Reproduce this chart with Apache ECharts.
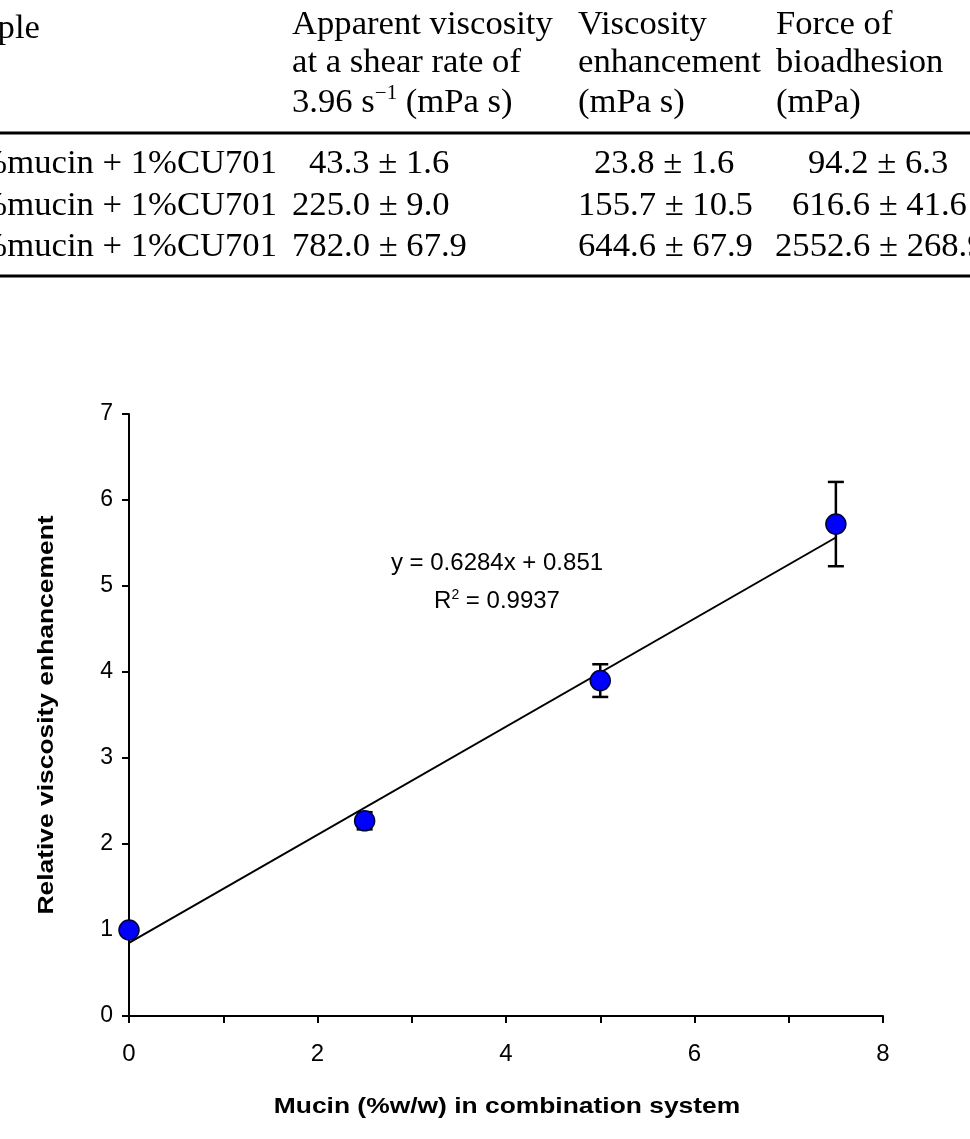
<!DOCTYPE html>
<html>
<head>
<meta charset="utf-8">
<script src="https://cdn.jsdelivr.net/npm/echarts@6/dist/echarts.min.js"></script>
<style>
  html, body { margin: 0; padding: 0; background: #fff; }
  #chart { width: 970px; height: 1139px; }
</style>
</head>
<body>
<div id="chart"></div>
<script>
// table above the figure (left column is cropped in the source)
const TABLE_SAMPLES = ['2.5%mucin + 1%CU701', '5%mucin + 1%CU701', '7.5%mucin + 1%CU701'];
const TABLE_APPARENT = ['43.3 \u00b1 1.6', '225.0 \u00b1 9.0', '782.0 \u00b1 67.9'];
const TABLE_ENHANCE = ['23.8 \u00b1 1.6', '155.7 \u00b1 10.5', '644.6 \u00b1 67.9'];
const TABLE_FORCE = ['94.2 \u00b1 6.3', '616.6 \u00b1 41.6', '2552.6 \u00b1 268.9'];

// figure: relative viscosity enhancement vs mucin content
const MUCIN = [0, 2.5, 5, 7.5];
const REL_VISC = [1.0, 2.27, 3.9, 5.72];
const REL_VISC_SD = [0, 0.1, 0.19, 0.49];
const TREND_X = [0, 7.5];
const TREND_Y = [0.851, 5.564];
const X_TICKS = [0, 2, 4, 6, 8];

const serif = '"Liberation Serif", "DejaVu Serif", serif';
const sans = '"Liberation Sans", Arial, sans-serif';
const SX = 1.05; // source text is a little wide

const chart = echarts.init(document.getElementById('chart'), null, { renderer: 'canvas' });

const txt = (x, y, text, align, extra) => ({
  type: 'text', x, y, scaleX: SX,
  style: Object.assign({ text, font: '33px ' + serif, fill: '#000', textAlign: align || 'left', textVerticalAlign: 'middle' }, extra || {})
});

const graphics = [
  txt(-64, 29, 'Sample'),
  txt(292, 25, 'Apparent viscosity'),
  txt(292, 63, 'at a shear rate of'),
  txt(292, 103, '3.96 s{sup|\u22121} (mPa s)', 'left', {
    rich: { sup: { fontSize: 20, fontFamily: serif, padding: [0, 0, 18, 0] } }
  }),
  txt(578, 25, 'Viscosity'),
  txt(578, 63, 'enhancement'),
  txt(578, 103, '(mPa s)'),
  txt(776, 25, 'Force of'),
  txt(776, 63, 'bioadhesion'),
  txt(776, 103, '(mPa)'),
  { type: 'line', shape: { x1: 0, y1: 133, x2: 970, y2: 133 }, style: { stroke: '#000', lineWidth: 3 } },
  { type: 'line', shape: { x1: 0, y1: 276, x2: 970, y2: 276 }, style: { stroke: '#000', lineWidth: 3 } },
  {
    type: 'text', x: 497, y: 563,
    style: { text: 'y = 0.6284x + 0.851', font: '24px ' + sans, fill: '#000', textAlign: 'center', textVerticalAlign: 'middle' }
  },
  {
    type: 'text', x: 497, y: 601,
    style: {
      text: 'R{sup|2} = 0.9937', font: '24px ' + sans, fill: '#000', textAlign: 'center', textVerticalAlign: 'middle',
      rich: { sup: { fontSize: 14, fontFamily: sans, padding: [0, 0, 12, 0] } }
    }
  },
  // axis titles (drawn as graphics so they can be widened like the source)
  {
    type: 'text', x: 507, y: 1107, scaleX: 1.2,
    style: { text: 'Mucin (%w/w) in combination system', font: 'bold 22px ' + sans, fill: '#000', textAlign: 'center', textVerticalAlign: 'middle' }
  },
  {
    type: 'text', x: 47, y: 715, rotation: Math.PI / 2, scaleX: 1.2,
    style: { text: 'Relative viscosity enhancement', font: 'bold 22px ' + sans, fill: '#000', textAlign: 'center', textVerticalAlign: 'middle' }
  }
];

const ROW_Y = [164, 206, 247];
const COL1_X = [309, 292, 292];
const COL2_X = [594, 578, 578];
const COL3_X = [808, 792, 775];
ROW_Y.forEach((y, i) => {
  graphics.push(txt(277, y, TABLE_SAMPLES[i], 'right'));
  graphics.push(txt(COL1_X[i], y, TABLE_APPARENT[i]));
  graphics.push(txt(COL2_X[i], y, TABLE_ENHANCE[i]));
  graphics.push(txt(COL3_X[i], y, TABLE_FORCE[i]));
});

const points = MUCIN.map((x, i) => [x, REL_VISC[i]]);
const errors = MUCIN.map((x, i) => [x, REL_VISC[i] - REL_VISC_SD[i], REL_VISC[i] + REL_VISC_SD[i]]);
const trend = TREND_X.map((x, i) => [x, TREND_Y[i]]);

chart.setOption({
  animation: false,
  backgroundColor: '#fff',
  graphic: graphics,
  grid: { left: 129, right: 87, top: 414, bottom: 123 },
  xAxis: {
    type: 'value', min: 0, max: 8, interval: 1,
    axisLine: { lineStyle: { color: '#000', width: 2 } },
    axisTick: { show: true, inside: false, length: 7, lineStyle: { color: '#000', width: 2 } },
    axisLabel: {
      margin: 26, fontFamily: sans, fontSize: 24, color: '#000',
      formatter: v => (X_TICKS.includes(v) ? String(v) : '')
    },
    splitLine: { show: false }
  },
  yAxis: {
    type: 'value', min: 0, max: 7, interval: 1,
    axisLine: { show: true, lineStyle: { color: '#000', width: 2 } },
    axisTick: { show: true, inside: false, length: 7, lineStyle: { color: '#000', width: 2 } },
    axisLabel: { margin: 16, fontFamily: sans, fontSize: 23, color: '#000' },
    splitLine: { show: false }
  },
  series: [
    {
      type: 'line', data: trend, symbol: 'none', z: 2,
      lineStyle: { color: '#000', width: 2 }
    },
    {
      type: 'custom', data: errors, z: 3,
      renderItem: (params, api) => {
        const top = api.coord([api.value(0), api.value(2)]);
        const bot = api.coord([api.value(0), api.value(1)]);
        const cap = 8;
        const st = { stroke: '#000', lineWidth: 2.5 };
        return {
          type: 'group',
          children: [
            { type: 'line', shape: { x1: top[0], y1: top[1], x2: bot[0], y2: bot[1] }, style: st },
            { type: 'line', shape: { x1: top[0] - cap, y1: top[1], x2: top[0] + cap, y2: top[1] }, style: st },
            { type: 'line', shape: { x1: bot[0] - cap, y1: bot[1], x2: bot[0] + cap, y2: bot[1] }, style: st }
          ]
        };
      }
    },
    {
      type: 'scatter', data: points, z: 4,
      symbol: 'circle', symbolSize: 20,
      itemStyle: { color: '#0000ff', borderColor: '#000033', borderWidth: 1.5, opacity: 1 }
    }
  ]
});
</script>
</body>
</html>
